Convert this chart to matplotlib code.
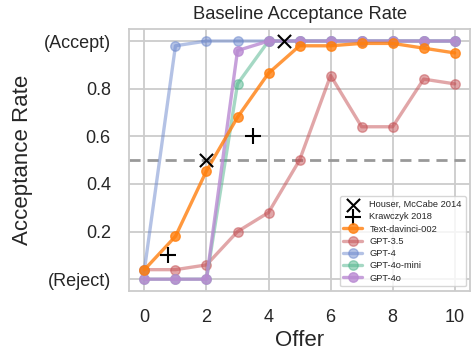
import matplotlib
matplotlib.use("Agg")
import matplotlib.pyplot as plt
import seaborn as sns
import numpy as np

offers = [0, 1, 2, 3, 4, 5, 6, 7, 8, 9, 10]
text_davinci = [0.04, 0.18, 0.455, 0.68, 0.865, 0.98, 0.98, 0.99, 0.99, 0.97, 0.95]
gpt35 = [0.04, 0.04, 0.06, 0.20, 0.28, 0.50, 0.855, 0.64, 0.64, 0.84, 0.82]
gpt4 = [0.04, 0.98, 1.0, 1.0, 1.0, 1.0, 1.0, 1.0, 1.0, 1.0, 1.0]
gpt4o_mini = [0.0, 0.0, 0.0, 0.82, 1.0, 1.0, 1.0, 1.0, 1.0, 1.0, 1.0]
gpt4o = [0.0, 0.0, 0.0, 0.96, 1.0, 1.0, 1.0, 1.0, 1.0, 1.0, 1.0]

houser_x = [2, 4.5]
houser_y = [0.5, 1.0]
krawczyk_x = [0.75, 3.5]
krawczyk_y = [0.1, 0.6]

ytick_vals = [0, 0.2, 0.4, 0.6, 0.8, 1.0]
ytick_labels = ["(Reject)", "0.2", "0.4", "0.6", "0.8", "(Accept)"]
xtick_vals = [0, 2, 4, 6, 8, 10]

sns.set_style("whitegrid")
plt.rcParams["font.family"] = ["Liberation Sans", "DejaVu Sans"]
plt.rcParams["axes.edgecolor"] = "#cccccc"
plt.rcParams["grid.color"] = "#cccccc"

fig = plt.figure(figsize=(4.74, 3.55), dpi=100)
ax = fig.add_axes([0.272, 0.180, 0.720, 0.738])

ax.axhline(0.5, color="#999999", lw=2.0, ls=(0, (4, 2.5)), zorder=1)

ax.scatter(houser_x, houser_y, marker="x", s=90, color="black", linewidths=1.5,
           label="Houser, McCabe 2014", zorder=10)
ax.scatter(krawczyk_x, krawczyk_y, marker="+", s=130, color="black", linewidths=1.5,
           label="Krawczyk 2018", zorder=10)

lw = 2.4
ms = 6.8
ax.plot(offers, text_davinci, "-o", color="#ff7f0e", alpha=0.8, lw=lw, ms=ms,
        label="Text-davinci-002", zorder=6)
ax.plot(offers, gpt35, "-o", color="#c44e52", alpha=0.5, lw=lw, ms=ms,
        label="GPT-3.5", zorder=3)
ax.plot(offers, gpt4, "-o", color="#6a86cc", alpha=0.5, lw=lw, ms=ms,
        label="GPT-4", zorder=3)
ax.plot(offers, gpt4o_mini, "-o", color="#4db38a", alpha=0.5, lw=lw, ms=ms,
        label="GPT-4o-mini", zorder=3)
ax.plot(offers, gpt4o, "-o", color="#b98ad2", alpha=0.8, lw=lw, ms=ms,
        label="GPT-4o", zorder=4)

ax.set_xlim(-0.5, 10.5)
ax.set_ylim(-0.05, 1.05)
ax.set_xticks(xtick_vals)
ax.set_yticks(ytick_vals)
ax.set_yticklabels(ytick_labels)
ax.tick_params(axis="both", labelsize=13, pad=13, length=0)
ax.grid(True, lw=1.3)
for s in ax.spines.values():
    s.set_linewidth(1.3)

ax.set_xlabel("Offer", fontsize=16, labelpad=3)
ax.set_ylabel("Acceptance Rate", fontsize=16, labelpad=8)
ax.set_title("Baseline Acceptance Rate", fontsize=13.2, pad=7)

leg = ax.legend(loc="lower right", fontsize=6.7, frameon=True, borderpad=0.4,
                labelspacing=0.35, handlelength=2.0, handletextpad=0.8,
                bbox_to_anchor=(1.0, 0.0))
leg.get_frame().set_edgecolor("#cccccc")

fig.savefig("out.png", dpi=100)
